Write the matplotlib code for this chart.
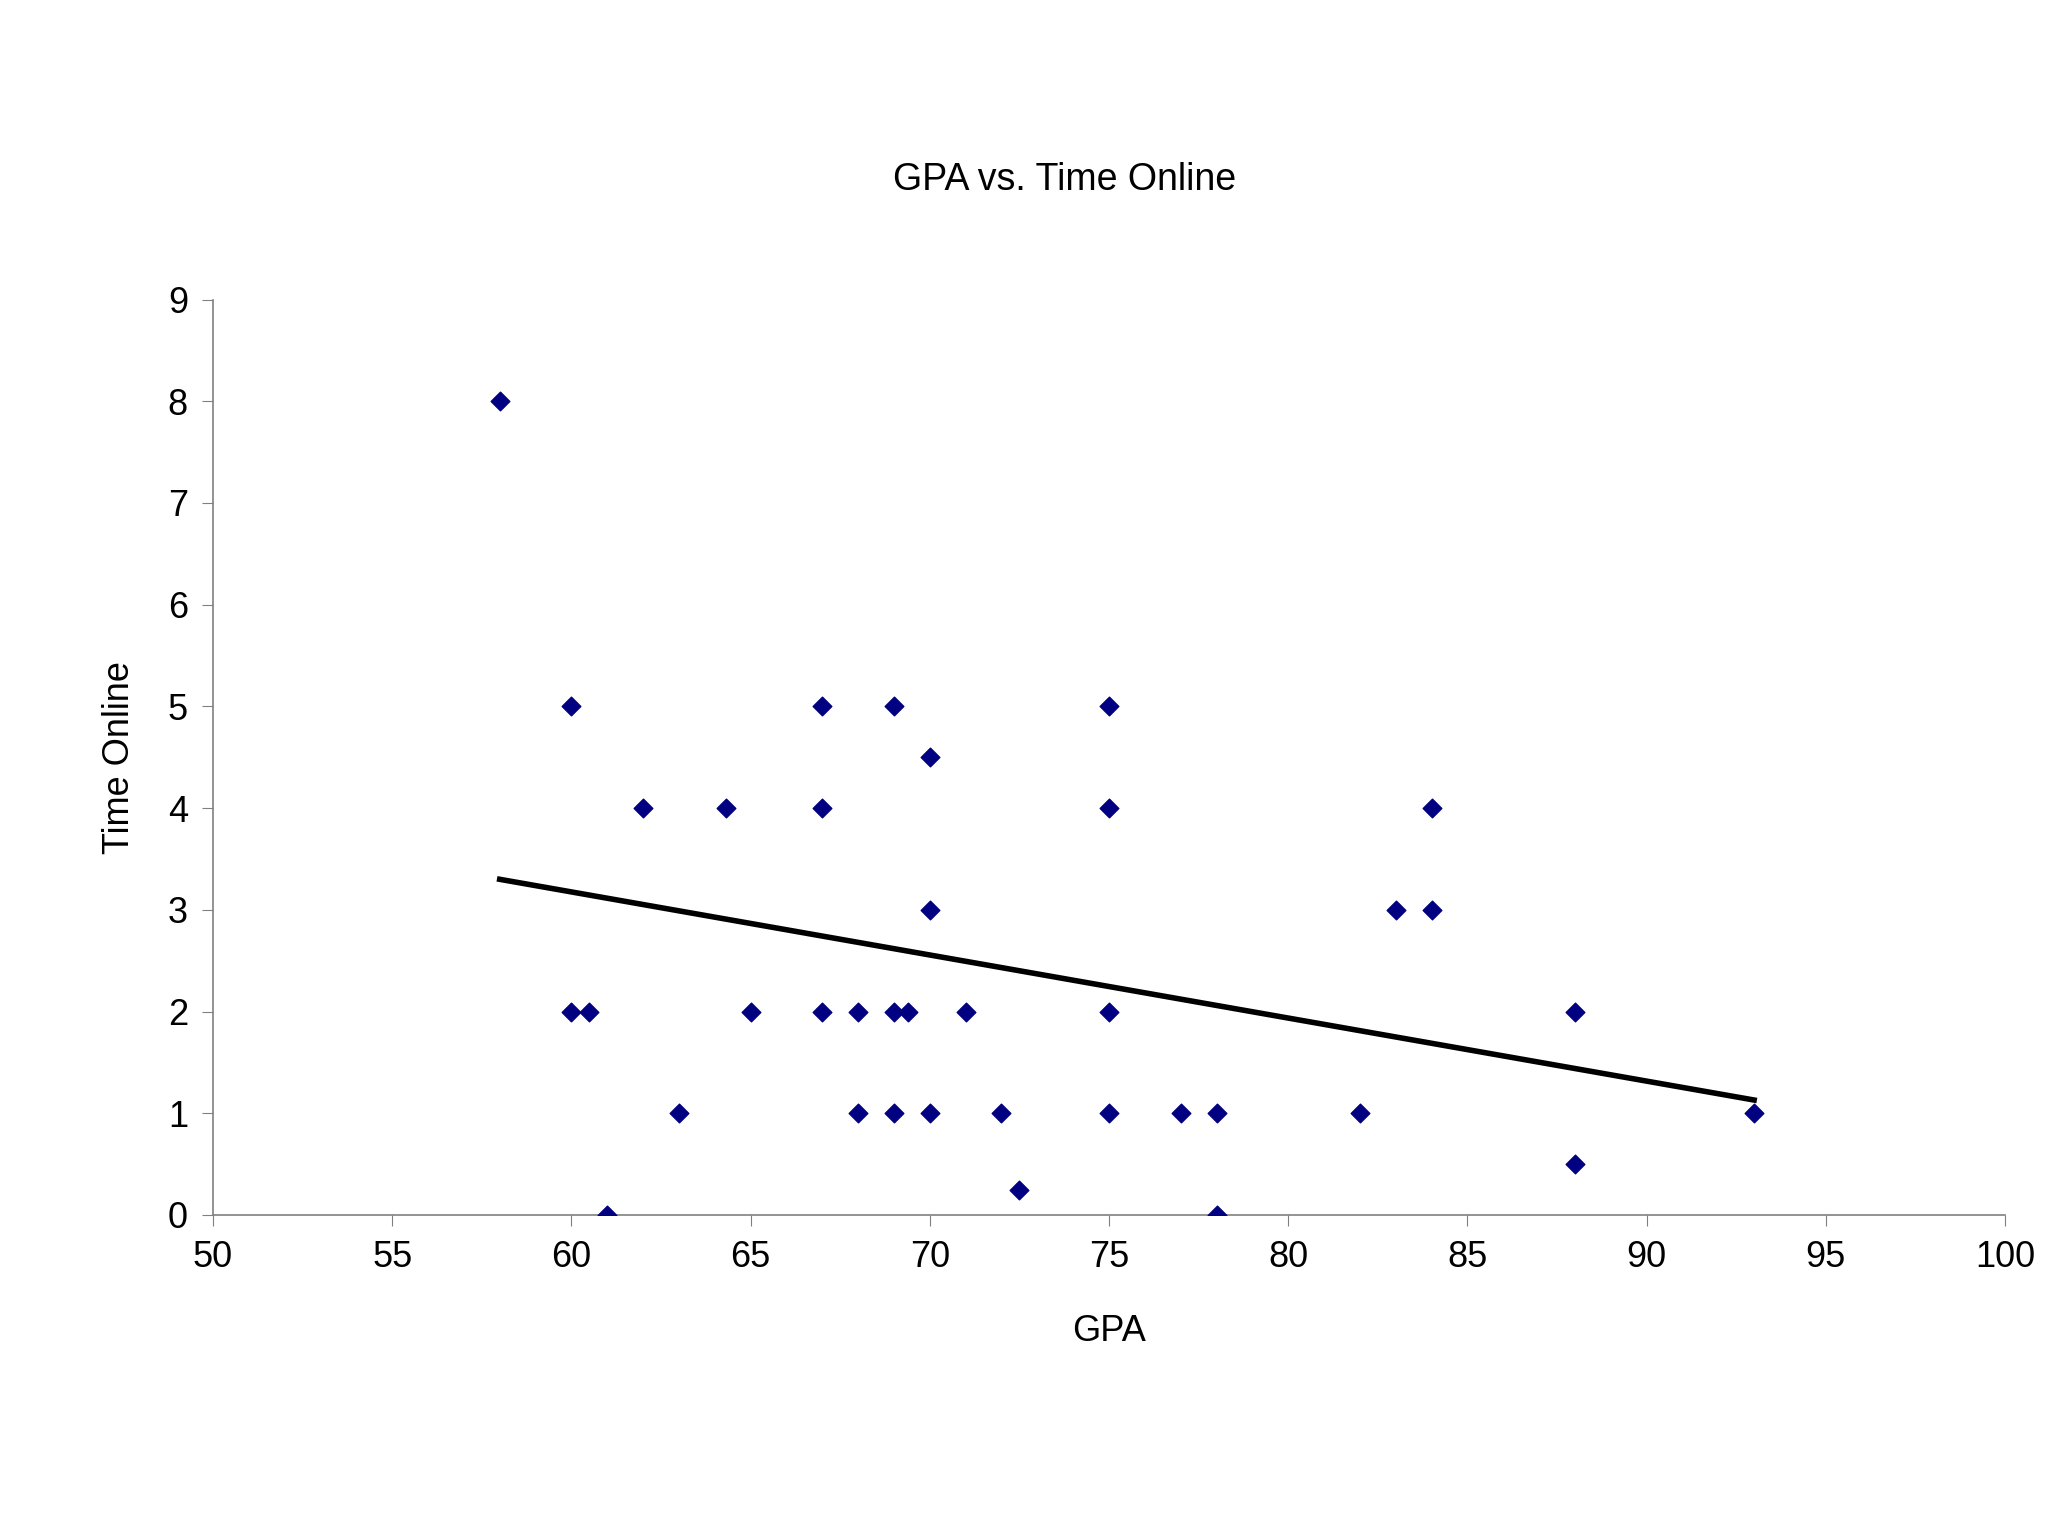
import matplotlib
matplotlib.use('Agg')
import matplotlib.pyplot as plt

plt.rcParams['font.family'] = ['Liberation Sans', 'DejaVu Sans']

# GPA vs. time online
gpa = [58, 60, 60, 60.5, 61, 62, 63, 64.3, 65, 67, 67, 67, 68, 68, 69, 69, 69,
       69.4, 70, 70, 70, 71, 72, 72.5, 75, 75, 75, 75, 77, 78, 78, 82, 83, 84,
       84, 88, 88, 93]
time_online = [8, 5, 2, 2, 0, 4, 1, 4, 2, 5, 4, 2, 2, 1, 5, 2, 1,
               2, 4.5, 3, 1, 2, 1, 0.25, 5, 4, 2, 1, 1, 1, 0, 1, 3, 4,
               3, 2, 0.5, 1]
trend_x = [58, 93]
trend_y = [3.3, 1.13]

fig = plt.figure(figsize=(20.48, 15.36), dpi=100)
ax = fig.add_axes([0.104, 0.209, 0.875, 0.596])

ax.scatter(gpa, time_online, marker='D', s=90, color='#000080', zorder=3)
ax.plot(trend_x, trend_y, color='black', linewidth=4, zorder=2)

ax.set_xlim(50, 100)
ax.set_ylim(0, 9)
ax.set_xticks(range(50, 101, 5))
ax.set_yticks(range(0, 10))
ax.tick_params(labelsize=26, direction='out', length=8, color='#808080', pad=10)
for s in ['top', 'right']:
    ax.spines[s].set_visible(False)
for s in ['left', 'bottom']:
    ax.spines[s].set_color('#808080')
    ax.spines[s].set_linewidth(1.2)

ax.set_xlabel('GPA', fontsize=26, labelpad=28)
ax.set_ylabel('Time Online', fontsize=26, labelpad=22)
fig.text(0.52, 0.883, 'GPA vs. Time Online', ha='center', va='center', fontsize=27)

fig.savefig('out.png', dpi=100)
